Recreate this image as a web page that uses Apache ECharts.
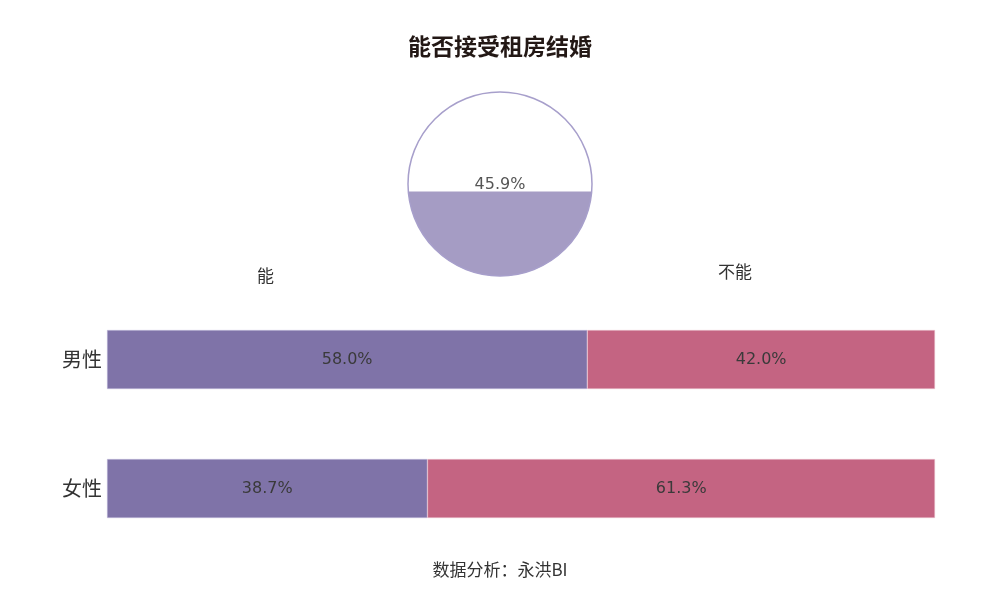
<!DOCTYPE html>
<html>
<head>
<meta charset="utf-8">
<script src="https://cdn.jsdelivr.net/npm/echarts@6/dist/echarts.min.js"></script>
<style>
  html, body { margin: 0; padding: 0; background: #fff; }
  #main { width: 1000px; height: 605px; }
</style>
</head>
<body>
<div id="main"></div>
<script>
// data
const genders = ['男性', '女性']
const canValues = [58.0, 38.7]
const cannotValues = [42.0, 61.3]
const overallCan = [45.9]
const seriesNames = ['能', '不能']

const font = '"Noto Sans CJK SC", "DejaVu Sans", sans-serif'
const numFont = '"DejaVu Sans", sans-serif'

let myChart = echarts.init(document.getElementById('main'))

// draws the filled circle (level = share from the bottom)
function renderLevel(params, api) {
  let level = api.value(0)
  let c = api.coord([0.5, 0.5])
  let r = api.size([1, 1])[0] / 2
  let ly = api.coord([0.5, level])[1]
  let s = Math.max(-1, Math.min(1, (ly - c[1]) / r))
  let t0 = Math.asin(s)
  let t1 = Math.PI - t0
  let pts = []
  for (let i = 0; i <= 80; i++) {
    let t = t0 + (t1 - t0) * i / 80
    pts.push([c[0] + r * Math.cos(t), c[1] + r * Math.sin(t)])
  }
  return {
    type: 'group',
    children: [
      {
        type: 'polygon',
        shape: { points: pts },
        style: { fill: '#a59cc4' }
      },
      {
        type: 'circle',
        shape: { cx: c[0], cy: c[1], r: r },
        style: { fill: 'none', stroke: '#a79fcb', lineWidth: 1.5 }
      },
      {
        type: 'text',
        style: {
          x: c[0], y: ly + 1,
          text: (level * 100).toFixed(1) + '%',
          align: 'center', verticalAlign: 'bottom',
          fill: '#555', fontSize: 16, fontFamily: numFont
        }
      }
    ]
  }
}

myChart.setOption({
  animation: false,
  title: [
    {
      text: '能否接受租房结婚',
      left: 'center', top: 30,
      textStyle: { fontSize: 23, fontWeight: 'bold', color: '#231815', fontFamily: font }
    },
    {
      text: seriesNames[0],
      left: 252, top: 262,
      textStyle: { fontSize: 17, fontWeight: 'normal', color: '#333', fontFamily: font }
    },
    {
      text: seriesNames[1],
      left: 713, top: 258,
      textStyle: { fontSize: 17, fontWeight: 'normal', color: '#333', fontFamily: font }
    },
    {
      text: '数据分析：永洪BI',
      left: 'center', top: 556,
      textStyle: { fontSize: 17, fontWeight: 'normal', color: '#333', fontFamily: font }
    }
  ],
  grid: [
    { left: 107, right: 65, top: 295, height: 258 },
    { left: 408, top: 92, width: 184, height: 184 }
  ],
  xAxis: [
    { type: 'value', gridIndex: 0, min: 0, max: 100, show: false },
    { type: 'value', gridIndex: 1, min: 0, max: 1, show: false }
  ],
  yAxis: [
    {
      type: 'category', gridIndex: 0, data: genders, inverse: true,
      axisLine: { show: false }, axisTick: { show: false }, splitLine: { show: false },
      axisLabel: { fontSize: 20, color: '#333', margin: 5, fontFamily: font }
    },
    { type: 'value', gridIndex: 1, min: 0, max: 1, show: false }
  ],
  series: [
    {
      name: seriesNames[0],
      type: 'bar', stack: 'all', barWidth: 59,
      data: canValues,
      itemStyle: { color: '#7f73a8', borderColor: '#c9c3e0', borderWidth: 0.5 },
      label: {
        show: true, position: 'inside', formatter: p => p.value.toFixed(1) + '%',
        color: '#3a3a3a', fontSize: 16, fontFamily: numFont
      }
    },
    {
      name: seriesNames[1],
      type: 'bar', stack: 'all', barWidth: 59,
      data: cannotValues,
      itemStyle: { color: '#c46482', borderColor: '#efc9d5', borderWidth: 0.5 },
      label: {
        show: true, position: 'inside', formatter: p => p.value.toFixed(1) + '%',
        color: '#3a3a3a', fontSize: 16, fontFamily: numFont
      }
    },
    {
      type: 'custom',
      xAxisIndex: 1, yAxisIndex: 1,
      data: overallCan.map(v => [v / 100]),
      encode: { x: -1, y: 0 },
      renderItem: renderLevel
    }
  ]
})
</script>
</body>
</html>
